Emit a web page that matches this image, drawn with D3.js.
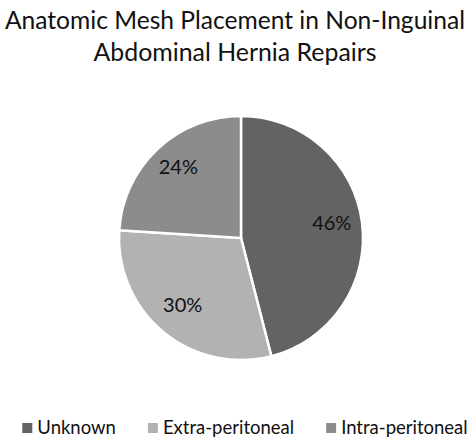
<!DOCTYPE html>
<html>
<head>
<meta charset="utf-8">
<script src="https://cdn.jsdelivr.net/npm/d3@7"></script>
<style>
  html, body { margin: 0; padding: 0; background: #fff; }
  svg { display: block; }
  text { font-family: Lato, "Open Sans", sans-serif; fill: #111; }
</style>
</head>
<body>
<svg width="474" height="440"></svg>
<script>
var titleLines = ['Anatomic Mesh Placement in Non-Inguinal', 'Abdominal Hernia Repairs'];
var categories = ['Unknown', 'Extra-peritoneal', 'Intra-peritoneal'];
var values = [46, 30, 24];
var colors = ['#636363', '#b2b2b2', '#8c8c8c'];

var svg = d3.select('svg');
var W = 474;

// title
var titleWidths = [460, 283];
svg.selectAll('text.title')
    .data(titleLines).enter()
    .append('text')
    .attr('class', 'title')
    .attr('x', 235)
    .attr('y', function(d, i){ return 29 + i * 32; })
    .attr('text-anchor', 'middle')
    .attr('textLength', function(d, i){ return titleWidths[i]; })
    .attr('lengthAdjust', 'spacingAndGlyphs')
    .style('font-size', '24.5px')
    .text(function(d){ return d; });

// pie
var cx = 241, cy = 238, r = 122;
var data = categories.map(function(c, i){ return {name: c, value: values[i], color: colors[i]}; });

var pie = d3.pie().sort(null).value(function(d){ return d.value; });
var arc = d3.arc().innerRadius(0).outerRadius(r);
var labelArc = d3.arc().innerRadius(r * 0.75).outerRadius(r * 0.75);

var g = svg.append('g').attr('transform', 'translate(' + cx + ',' + cy + ')');

g.selectAll('path')
    .data(pie(data)).enter()
    .append('path')
    .attr('d', arc)
    .attr('fill', function(d){ return d.data.color; })
    .attr('stroke', '#fff')
    .attr('stroke-width', 2.5);

g.selectAll('text.lbl')
    .data(pie(data)).enter()
    .append('text')
    .attr('class', 'lbl')
    .attr('x', function(d){ return labelArc.centroid(d)[0]; })
    .attr('y', function(d){ return labelArc.centroid(d)[1] - 4; })
    .attr('dy', '0.35em')
    .attr('text-anchor', 'middle')
    .style('font-size', '20px')
    .text(function(d){ return d.data.value + '%'; });

// legend
var legend = svg.append('g');
var items = legend.selectAll('g')
    .data(data).enter()
    .append('g');

items.append('rect')
    .attr('width', 10)
    .attr('height', 10)
    .attr('y', -11)
    .attr('fill', function(d){ return d.color; });

items.append('text')
    .attr('x', 15)
    .style('font-size', '18.5px')
    .text(function(d){ return d.name; });

var x = 0;
items.each(function(){
    var w = 15 + d3.select(this).select('text').node().getComputedTextLength();
    d3.select(this).attr('transform', 'translate(' + x + ',0)');
    x += w + 32;
});
var total = x - 32;
legend.attr('transform', 'translate(' + (245 - total / 2) + ',434)');
</script>
</body>
</html>
